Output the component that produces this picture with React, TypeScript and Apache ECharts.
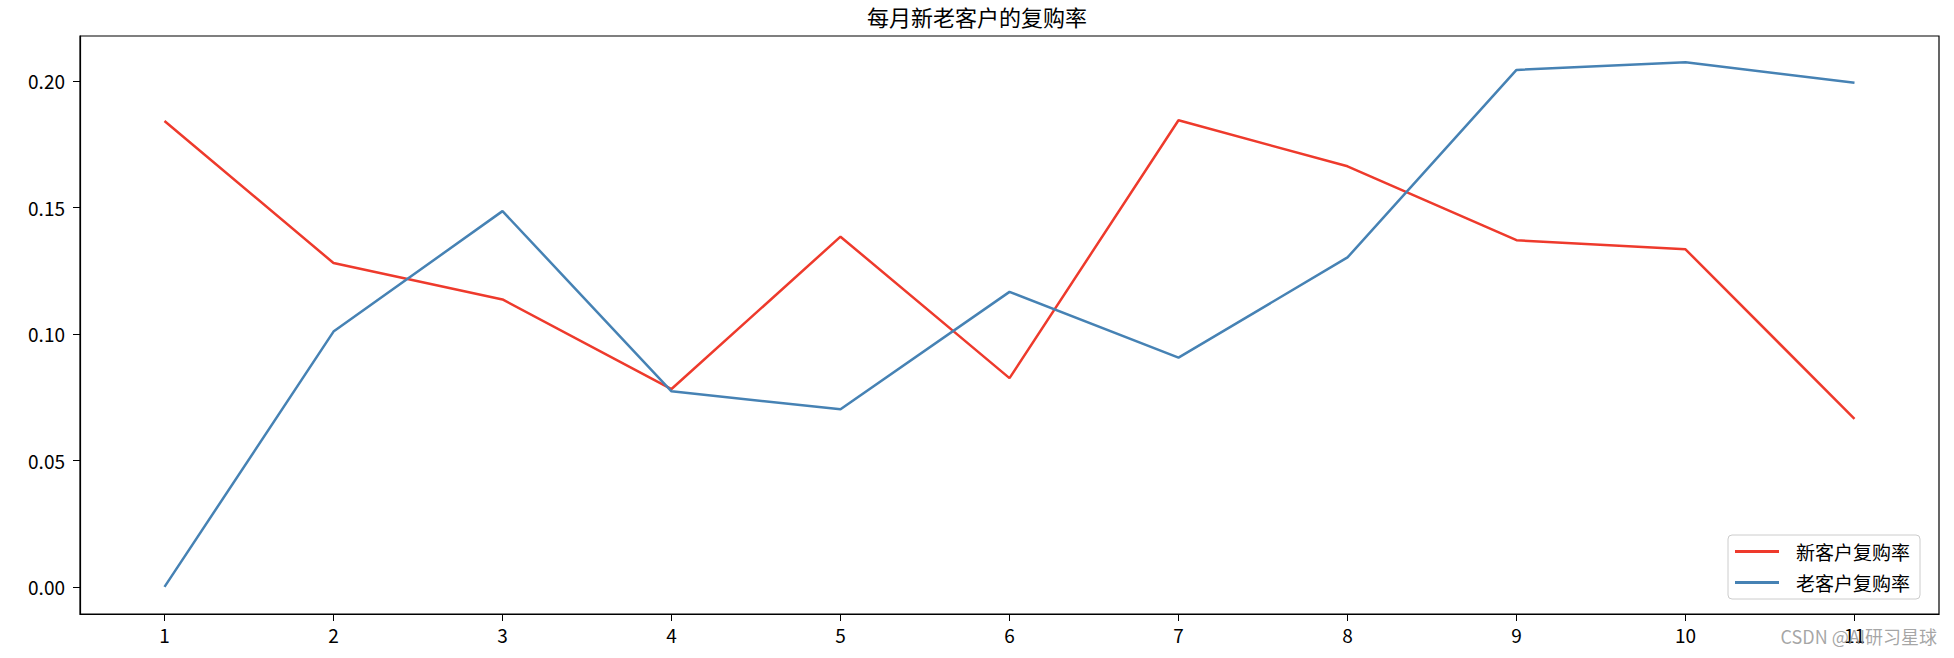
import React, { useEffect, useRef } from "react";
import * as echarts from "echarts";

const months = ["1", "2", "3", "4", "5", "6", "7", "8", "9", "10", "11"];
const newCustomerRate = [0.1841, 0.128, 0.1136, 0.0782, 0.1384, 0.0825, 0.1844, 0.1662, 0.137, 0.1334, 0.0664];
const oldCustomerRate = [0.0, 0.1009, 0.1485, 0.0773, 0.0702, 0.1166, 0.0906, 0.1302, 0.2043, 0.2073, 0.1992];
const yTicks = [0, 0.05, 0.1, 0.15, 0.2];
const seriesNames = ["新客户复购率", "老客户复购率"];
const titleText = "每月新老客户的复购率";
const watermark = "CSDN @AI研习星球";

const FONT = "'Noto Sans CJK SC', 'Noto Sans', sans-serif";

export default function App() {
  const ref = useRef<HTMLDivElement>(null);
  useEffect(() => {
    document.body.style.margin = "0";
    const chart = echarts.init(ref.current!, null, { renderer: "svg" });
    chart.setOption({
      animation: false,
      backgroundColor: "#ffffff",
      textStyle: { fontFamily: FONT },
      title: {
        text: titleText,
        left: "center",
        top: 4,
        padding: [0, 0, 0, 66],
        textStyle: { fontFamily: FONT, fontSize: 22, fontWeight: "normal", color: "#000", lineHeight: 24 },
      },
      grid: {
        left: 80,
        right: 15,
        top: 36,
        bottom: 44,
        show: true,
        borderColor: "#000",
        borderWidth: 1.2,
        backgroundColor: "transparent",
      },
      legend: {
        orient: "vertical",
        left: 1728,
        top: 535,
        padding: [7, 10, 7, 7],
        itemGap: 12,
        itemWidth: 44,
        itemHeight: 3,
        icon: "rect",
        backgroundColor: "rgba(255,255,255,0.85)",
        borderColor: "#cccccc",
        borderWidth: 1,
        borderRadius: 4,
        textStyle: { fontFamily: FONT, fontSize: 19, color: "#000", padding: [0, 0, 0, 12] },
        data: seriesNames,
      },
      xAxis: {
        type: "category",
        data: months,
        boundaryGap: true,
        axisLine: { show: true, onZero: false, lineStyle: { color: "#000", width: 1.2 } },
        axisTick: { show: true, alignWithLabel: true, length: 7, lineStyle: { color: "#000" } },
        axisLabel: { color: "#000", fontSize: 19, margin: 11, fontFamily: FONT },
        splitLine: { show: false },
      },
      yAxis: {
        type: "value",
        min: -0.0107,
        max: 0.2177,
        axisLine: { show: true, onZero: false, lineStyle: { color: "#000", width: 1.2 } },
        axisTick: { show: true, length: 7, lineStyle: { color: "#000" }, customValues: yTicks },
        axisLabel: {
          color: "#000",
          fontSize: 19,
          margin: 15,
          fontFamily: FONT,
          customValues: yTicks,
          formatter: (v: number) => v.toFixed(2),
        },
        splitLine: { show: false },
      },
      series: [
        {
          name: seriesNames[0],
          type: "line",
          data: newCustomerRate,
          symbol: "none",
          lineStyle: { color: "#ee3a2c", width: 2.5 },
          itemStyle: { color: "#ee3a2c" },
        },
        {
          name: seriesNames[1],
          type: "line",
          data: oldCustomerRate,
          symbol: "none",
          lineStyle: { color: "#4682b4", width: 2.5 },
          itemStyle: { color: "#4682b4" },
        },
      ],
      graphic: [
        {
          type: "text",
          right: 17,
          top: 627,
          z: 100,
          style: {
            text: watermark,
            fill: "rgba(150,150,150,0.85)",
            font: `18px ${FONT}`,
          },
        },
      ],
    });
    return () => chart.dispose();
  }, []);
  return (
    <div
      ref={ref}
      style={{ position: "absolute", left: 0, top: 0, width: 1954, height: 658 }}
    />
  );
}
